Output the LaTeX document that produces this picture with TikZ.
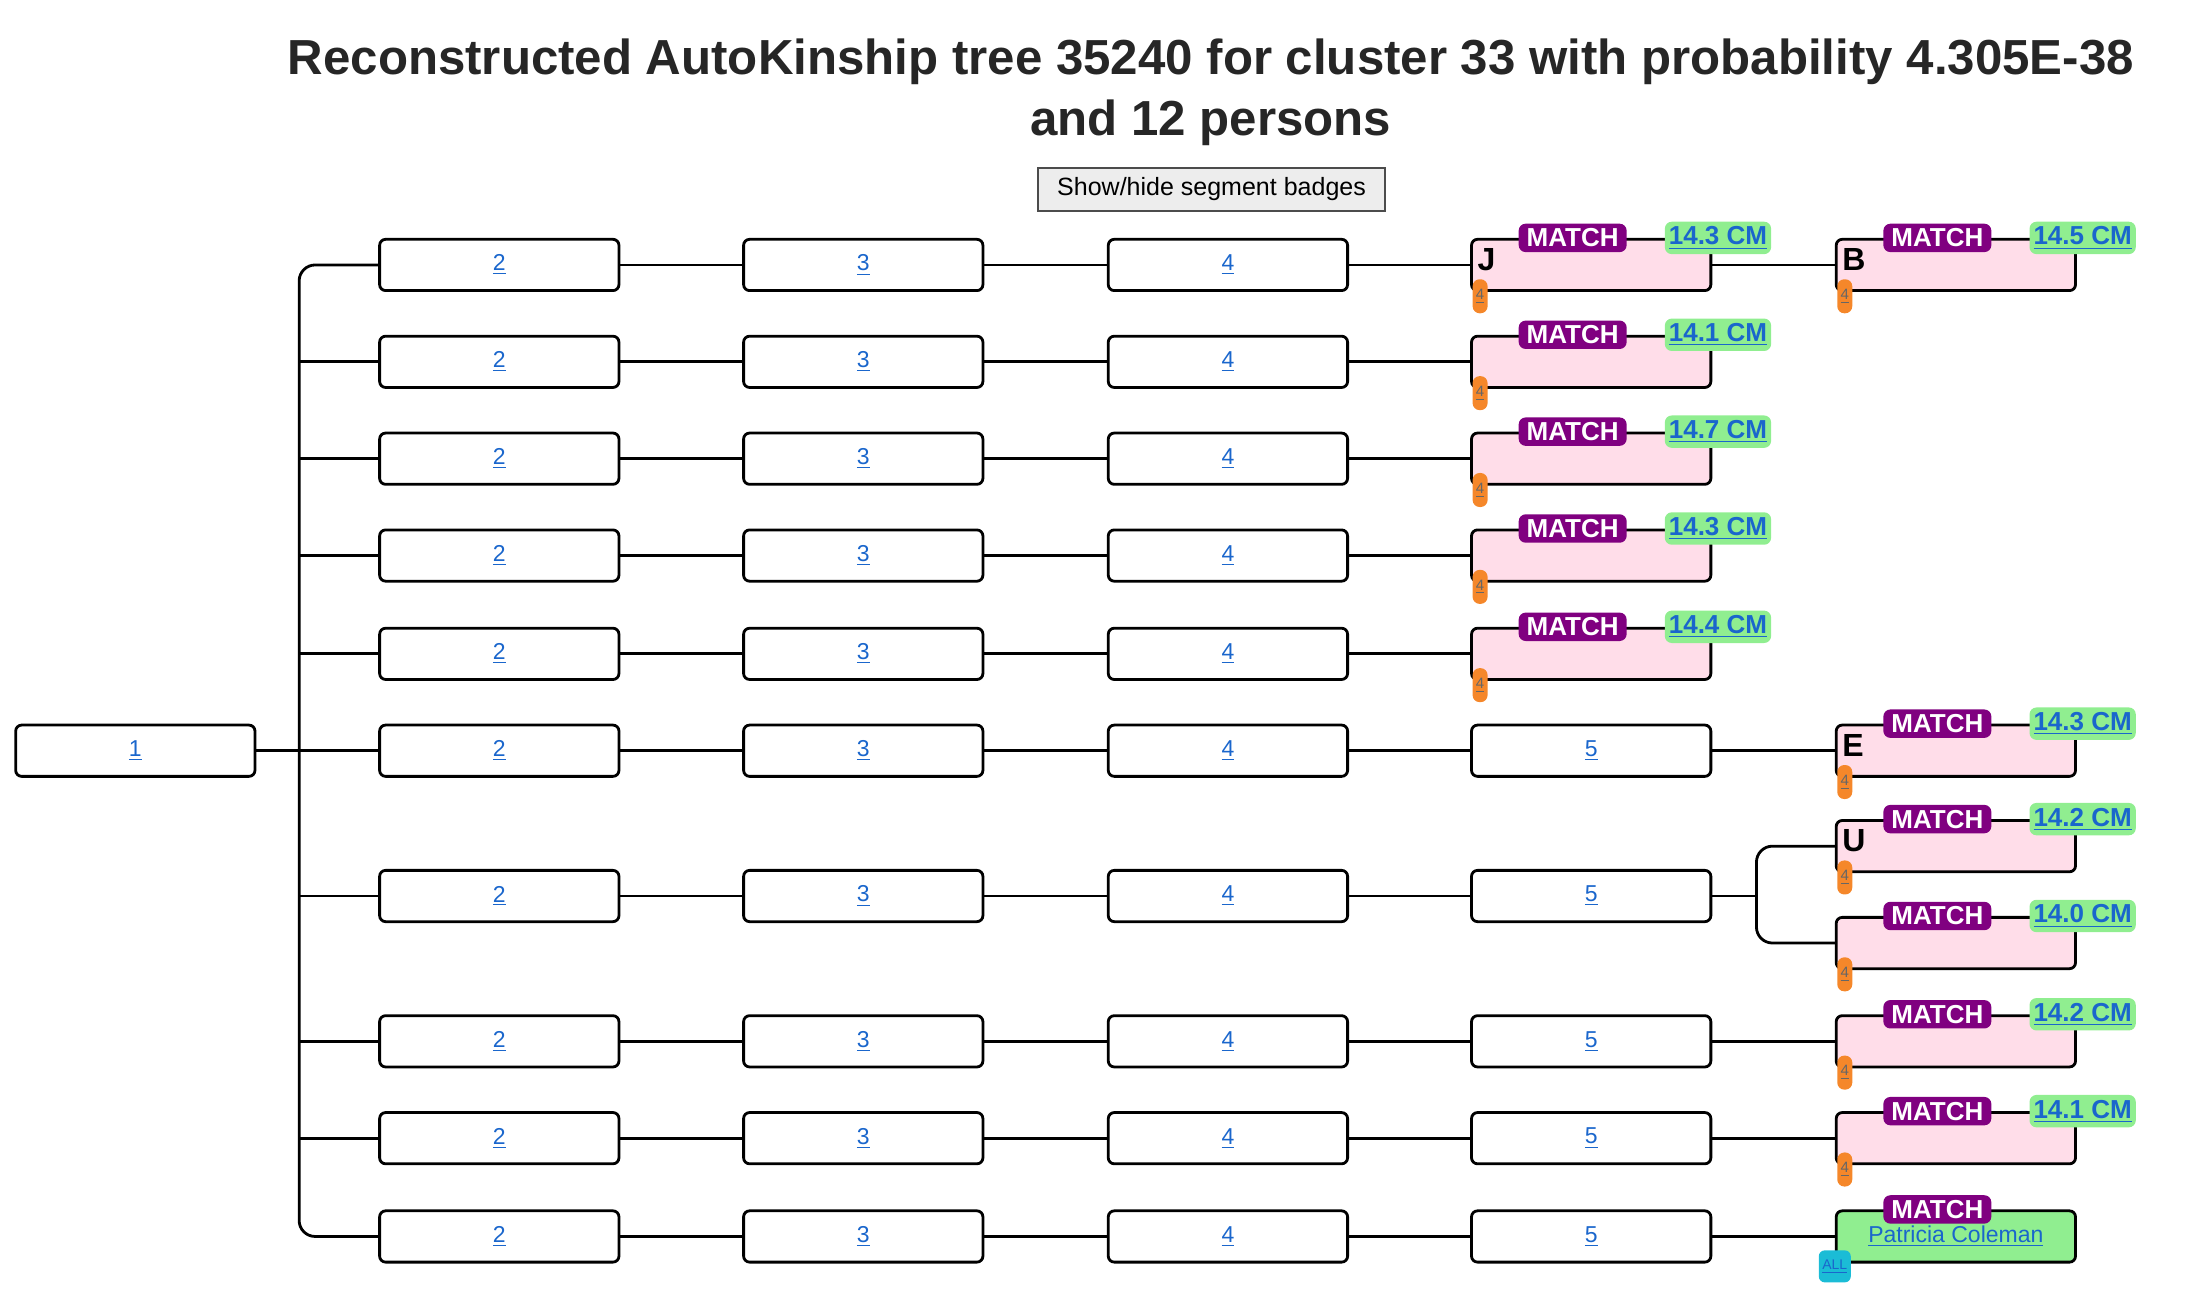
\documentclass[tikz,border=0pt]{standalone}
\usepackage{fontspec}
\setmainfont{Liberation Sans}
\definecolor{lnk}{HTML}{1A66CC}
\definecolor{pinkf}{HTML}{FFDDE9}
\definecolor{purp}{HTML}{800080}
\definecolor{lgreen}{HTML}{90EE90}
\definecolor{orng}{HTML}{F5872A}
\definecolor{cyanb}{HTML}{1BBCD6}
\newcommand\lk[1]{\textcolor{lnk}{\underline{#1}}}
\tikzset{
 box/.style={draw=black,line width=1.4pt,rounded corners=3pt,minimum width=168*0.712pt,minimum height=36*0.712pt,inner sep=0pt,font=\fontsize{11.5}{13}\selectfont},
 mbox/.style={box,fill=pinkf},
 matchb/.style={fill=purp,text=white,rounded corners=3.5pt,font=\bfseries\fontsize{13}{15}\selectfont,inner xsep=4pt,inner ysep=2.5pt},
 cmb/.style={fill=lgreen,rounded corners=3.5pt,font=\bfseries\fontsize{13}{15}\selectfont,inner xsep=2pt,inner ysep=2.5pt},
 pill/.style={fill=orng,rounded corners=3.5pt,minimum width=7.5pt,minimum height=17pt,inner sep=0pt,font=\fontsize{7.5}{8}\selectfont,text=black!60},
 lett/.style={font=\bfseries\fontsize{16}{18}\selectfont,inner sep=0pt},
 con/.style={line width=1.4pt},
}
\newcommand\matchnode[5]{% name, cx, cy, letter, cm
 \node[mbox] (#1) at (#2,#3) {};
 \node[matchb] (#1m) at ([xshift=-13*0.712pt]#1.north) {MATCH};
 \node[cmb] (#1c) at ([xshift=89*0.712pt]#1.north) {\lk{#5}};
 \node[pill] (#1p) at ([xshift=7*0.712pt,yshift=-3*0.712pt]#1.south west) {\underline{4}};
 \node[lett,anchor=west] (#1l) at ([xshift=5*0.712pt,yshift=4*0.712pt]#1.west) {#4};
}
\begin{document}
\begin{tikzpicture}[x=0.712pt,y=-0.712pt]
\useasboundingbox (0,0) rectangle (1550,910);
\node[font=\bfseries\fontsize{24.6}{30.5}\selectfont,align=center,text=black!85] (title) at (850,65) {Reconstructed AutoKinship tree 35240 for cluster 33 with probability 4.305E-38\\and 12 persons};
\node[draw=black!70,fill=black!7,line width=1pt,minimum width=243*0.712pt,minimum height=30*0.712pt,inner sep=0pt,font=\fontsize{12.5}{14}\selectfont] (btn) at (850.5,133) {Show/hide segment badges};
\node[box] (r) at (95,527) {\lk{1}};
\foreach \i/\y in {1/186,2/254,3/322,4/390,5/459,6/527,7/629,8/731,9/799,10/868}{
 \node[box] (a\i) at (350.5,\y) {\lk{2}};
 \node[box] (b\i) at (606,\y) {\lk{3}};
 \node[box] (c\i) at (862,\y) {\lk{4}};
 \draw[con] (a\i) -- (b\i);
 \draw[con] (b\i) -- (c\i);
}
\coordinate (v) at (210,527);
\draw[con] (r.east) -- (a6.west);
\draw[con,rounded corners=8pt] (a1.west) -| (v) |- (a10.west);
\foreach \i in {2,...,9}{\draw[con] (v|-a\i.west) -- (a\i.west);}
% column 5
\matchnode{m1}{1117}{186}{J}{14.3 CM}
\matchnode{m2}{1117}{254}{}{14.1 CM}
\matchnode{m3}{1117}{322}{}{14.7 CM}
\matchnode{m4}{1117}{390}{}{14.3 CM}
\matchnode{m5}{1117}{459}{}{14.4 CM}
\foreach \i in {1,...,5}{\draw[con] (c\i) -- (m\i);}
\foreach \i/\y in {6/527,7/629,8/731,9/799,10/868}{
 \node[box] (d\i) at (1117,\y) {\lk{5}};
 \draw[con] (c\i) -- (d\i);
}
% column 6
\matchnode{n1}{1373}{186}{B}{14.5 CM}
\matchnode{n6}{1373}{527}{E}{14.3 CM}
\matchnode{n7a}{1373}{594}{U}{14.2 CM}
\matchnode{n7b}{1373}{662}{}{14.0 CM}
\matchnode{n8}{1373}{731}{}{14.2 CM}
\matchnode{n9}{1373}{799}{}{14.1 CM}
\node[box,fill=lgreen] (n10) at (1373,868) {\lk{Patricia Coleman}};
\node[matchb] (n10m) at ([xshift=-13*0.712pt]n10.north) {MATCH};
\node[fill=cyanb,rounded corners=3pt,minimum width=16pt,minimum height=16pt,inner sep=0pt,font=\fontsize{7}{8}\selectfont] (n10p) at ([xshift=0pt,yshift=-2*0.712pt]n10.south west) {\lk{ALL}};
\draw[con] (m1) -- (n1);
\foreach \i in {6,8,9,10}{\draw[con] (d\i) -- (n\i);}
\coordinate (u) at (1233,629);
\draw[con] (d7.east) -- (u);
\draw[con,rounded corners=8pt] (n7a.west) -| (u) |- (n7b.west);
\end{tikzpicture}
\end{document}
